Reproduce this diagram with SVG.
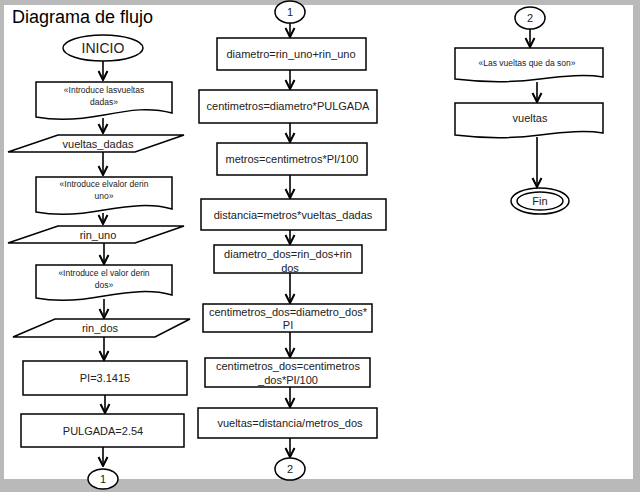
<svg xmlns="http://www.w3.org/2000/svg" width="640" height="492" viewBox="0 0 640 492">
<style>
.s{fill:#fff;stroke:#000;stroke-width:1.5}
.t{font-family:"Liberation Sans",Arial,sans-serif;font-size:11px;fill:#222;text-anchor:middle}
.sm{font-size:8.5px}
.c line{stroke:#000;stroke-width:1.6;marker-end:url(#a)}
</style>
<defs><marker id="a" viewBox="0 0 10 10" refX="9" refY="5" markerWidth="7" markerHeight="7" orient="auto"><path d="M1,1 L9,5 L1,9" fill="none" stroke="#000" stroke-width="1.8"/></marker></defs>
<rect width="640" height="492" fill="#b9b9b9"/>
<rect x="4" y="5" width="629" height="474" fill="#fff"/>
<text x="12" y="23" style="font-family:'Liberation Sans',Arial,sans-serif;font-size:18px">Diagrama de flujo</text>
<g class="c">
<line x1="103" y1="61" x2="103" y2="80"/>
<line x1="103" y1="118" x2="103" y2="133"/>
<line x1="103" y1="152" x2="103" y2="175"/>
<line x1="103" y1="213" x2="103" y2="224"/>
<line x1="104" y1="243" x2="104" y2="264"/>
<line x1="104" y1="299" x2="104" y2="318"/>
<line x1="104" y1="337" x2="104" y2="360"/>
<line x1="105" y1="395" x2="105" y2="413"/>
<line x1="103" y1="447" x2="103" y2="466"/>
<line x1="290" y1="23" x2="290" y2="37"/>
<line x1="290" y1="70" x2="290" y2="89"/>
<line x1="290" y1="123" x2="290" y2="142"/>
<line x1="290" y1="175" x2="290" y2="198"/>
<line x1="290" y1="230" x2="290" y2="244"/>
<line x1="290" y1="273" x2="290" y2="303"/>
<line x1="290" y1="332" x2="290" y2="357"/>
<line x1="290" y1="387" x2="290" y2="407"/>
<line x1="290" y1="438" x2="290" y2="457"/>
<line x1="530" y1="29" x2="530" y2="47"/>
<line x1="537" y1="82" x2="537" y2="102"/>
<line x1="537" y1="137" x2="537" y2="187"/>
</g>
<g id="inicio"><ellipse class="s" cx="103" cy="48" rx="40" ry="13"/><text class="t" x="103" y="53" style="font-size:14px">INICIO</text></g>
<g id="in1"><path class="s" d="M36,82 H172 V113 C150,107 130,110 104,115 C78,120 58,121 36,117 Z"/><text class="t sm" x="104" y="93">«Introduce lasvueltas</text><text class="t sm" x="104" y="105">dadas»</text></g>
<g id="vueltas_dadas"><path class="s" d="M58,135 H184 L135,152 H8 Z"/><text class="t" x="98" y="148">vueltas_dadas</text></g>
<g id="in2"><path class="s" d="M36,177 H172 V209 C150,203 130,206 104,210 C78,215 58,216 36,212 Z"/><text class="t sm" x="104" y="187">«Introduce elvalor derin</text><text class="t sm" x="104" y="199">uno»</text></g>
<g id="rin_uno"><path class="s" d="M58,226 H184 L135,243 H8 Z"/><text class="t" x="98" y="239">rin_uno</text></g>
<g id="in3"><path class="s" d="M36,265 H172 V295 C150,289 130,292 104,296 C78,301 58,302 36,298 Z"/><text class="t sm" x="104" y="276">«Introduce el valor derin</text><text class="t sm" x="104" y="288">dos»</text></g>
<g id="rin_dos"><path class="s" d="M55,319 H190 L155,337 H13 Z"/><text class="t" x="100" y="332">rin_dos</text></g>
<g id="pi"><rect class="s" x="23" y="361" width="164" height="34"/><text class="t" x="105" y="382">PI=3.1415</text></g>
<g id="pulgada"><rect class="s" x="21" y="414" width="163" height="33"/><text class="t" x="103" y="435">PULGADA=2.54</text></g>
<g id="c1a"><ellipse class="s" cx="103" cy="479" rx="15" ry="10"/><text class="t" x="103" y="483">1</text></g>
<g id="c1b"><ellipse class="s" cx="290" cy="12" rx="15" ry="11"/><text class="t" x="290" y="16">1</text></g>
<g id="diametro"><rect class="s" x="217" y="38" width="149" height="32"/><text class="t" x="291" y="58">diametro=rin_uno+rin_uno</text></g>
<g id="centimetros"><rect class="s" x="199" y="90" width="178" height="33"/><text class="t" x="288" y="110">centimetros=diametro*PULGADA</text></g>
<g id="metros"><rect class="s" x="217" y="143" width="150" height="32"/><text class="t" x="292" y="163">metros=centimetros*PI/100</text></g>
<g id="distancia"><rect class="s" x="201" y="199" width="185" height="31"/><text class="t" x="293" y="219">distancia=metros*vueltas_dadas</text></g>
<g id="diametro_dos"><rect class="s" x="214" y="245" width="148" height="28"/><text class="t" x="288" y="258">diametro_dos=rin_dos+rin</text><text class="t" x="290" y="272">dos</text></g>
<g id="centimetros_dos"><rect class="s" x="203" y="304" width="169" height="28"/><text class="t" x="288" y="316">centimetros_dos=diametro_dos*</text><text class="t" x="288" y="329">PI</text></g>
<g id="centimetros_dos2"><rect class="s" x="205" y="358" width="165" height="29"/><text class="t" x="288" y="370">centimetros_dos=centimetros</text><text class="t" x="288" y="384">_dos*PI/100</text></g>
<g id="vueltas_calc"><rect class="s" x="198" y="408" width="179" height="30"/><text class="t" x="290" y="427">vueltas=distancia/metros_dos</text></g>
<g id="c2a"><ellipse class="s" cx="290" cy="469" rx="15" ry="11"/><text class="t" x="290" y="473">2</text></g>
<g id="c2b"><ellipse class="s" cx="530" cy="18" rx="15" ry="11"/><text class="t" x="530" y="22">2</text></g>
<g id="out1"><path class="s" d="M455,48 H603 V77 C585,74 565,76 540,79 C510,83 480,82 455,79 Z"/><text class="t sm" x="527" y="66">«Las vueltas que da son»</text></g>
<g id="out2"><path class="s" d="M455,103 H603 V133 C585,130 565,132 540,135 C510,139 480,138 455,135 Z"/><text class="t" x="530" y="122">vueltas</text></g>
<g id="fin"><ellipse class="s" cx="540" cy="201" rx="29" ry="13"/><ellipse class="s" cx="540" cy="201" rx="23" ry="9"/><text class="t" x="540" y="205">Fin</text></g>
</svg>
